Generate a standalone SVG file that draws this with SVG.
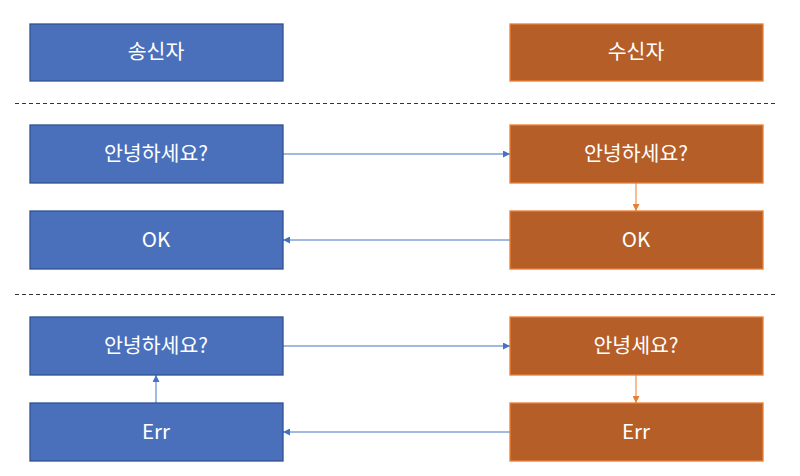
<svg xmlns="http://www.w3.org/2000/svg" width="800" height="476" viewBox="0 0 800 476">
<style>
.b{fill:#4A70BC;stroke:#2F528F;stroke-width:1.3}
.o{fill:#B55E28;stroke:#ED7D31;stroke-width:1.3}
.t{font-family:"Noto Sans CJK KR","Noto Sans",sans-serif;font-size:20.5px;fill:#fff;text-anchor:middle}
.d{stroke:#333;stroke-width:1;stroke-dasharray:4 3;fill:none}
.cb{stroke:#4472C4;stroke-width:1;fill:none;marker-end:url(#ab)}
.co{stroke:#ED7D31;stroke-width:1;fill:none;marker-end:url(#ao)}
</style>
<defs>
<marker id="ab" viewBox="0 0 10 10" refX="10" refY="5" markerWidth="7" markerHeight="7" orient="auto" markerUnits="userSpaceOnUse"><path d="M0,0L10,5L0,10z" fill="#4472C4"/></marker>
<marker id="ao" viewBox="0 0 10 10" refX="10" refY="5" markerWidth="7" markerHeight="7" orient="auto" markerUnits="userSpaceOnUse"><path d="M0,0L10,5L0,10z" fill="#ED7D31"/></marker>
</defs>
<rect width="800" height="476" fill="#fff"/>
<line class="d" x1="15" y1="103.5" x2="778" y2="103.5"/>
<line class="d" x1="15" y1="294.5" x2="778" y2="294.5"/>
<g id="connectors">
<line class="cb" x1="283" y1="154" x2="510" y2="154"/>
<line class="co" x1="636" y1="183" x2="636" y2="211"/>
<line class="cb" x1="510" y1="240" x2="283" y2="240"/>
<line class="cb" x1="283" y1="346" x2="510" y2="346"/>
<line class="co" x1="636" y1="375" x2="636" y2="403"/>
<line class="cb" x1="510" y1="432" x2="283" y2="432"/>
<line class="cb" x1="156" y1="403" x2="156" y2="375"/>
</g>
<g id="sender"><rect class="b" x="30" y="24" width="253" height="57"/><text class="t" x="156" y="59">송신자</text></g>
<g id="receiver"><rect class="o" x="510" y="24" width="253" height="57"/><text class="t" x="636" y="59">수신자</text></g>
<g id="s1"><rect class="b" x="30" y="125" width="253" height="58"/><text class="t" x="156" y="161">안녕하세요?</text></g>
<g id="r1"><rect class="o" x="510" y="125" width="253" height="58"/><text class="t" x="636" y="161">안녕하세요?</text></g>
<g id="s2"><rect class="b" x="30" y="211" width="253" height="58"/><text class="t" x="156" y="247">OK</text></g>
<g id="r2"><rect class="o" x="510" y="211" width="253" height="58"/><text class="t" x="636" y="247">OK</text></g>
<g id="s3"><rect class="b" x="30" y="317" width="253" height="58"/><text class="t" x="156" y="353">안녕하세요?</text></g>
<g id="r3"><rect class="o" x="510" y="317" width="253" height="58"/><text class="t" x="636" y="353">안녕세요?</text></g>
<g id="s4"><rect class="b" x="30" y="403" width="253" height="58"/><text class="t" x="156" y="439">Err</text></g>
<g id="r4"><rect class="o" x="510" y="403" width="253" height="58"/><text class="t" x="636" y="439">Err</text></g>
</svg>
